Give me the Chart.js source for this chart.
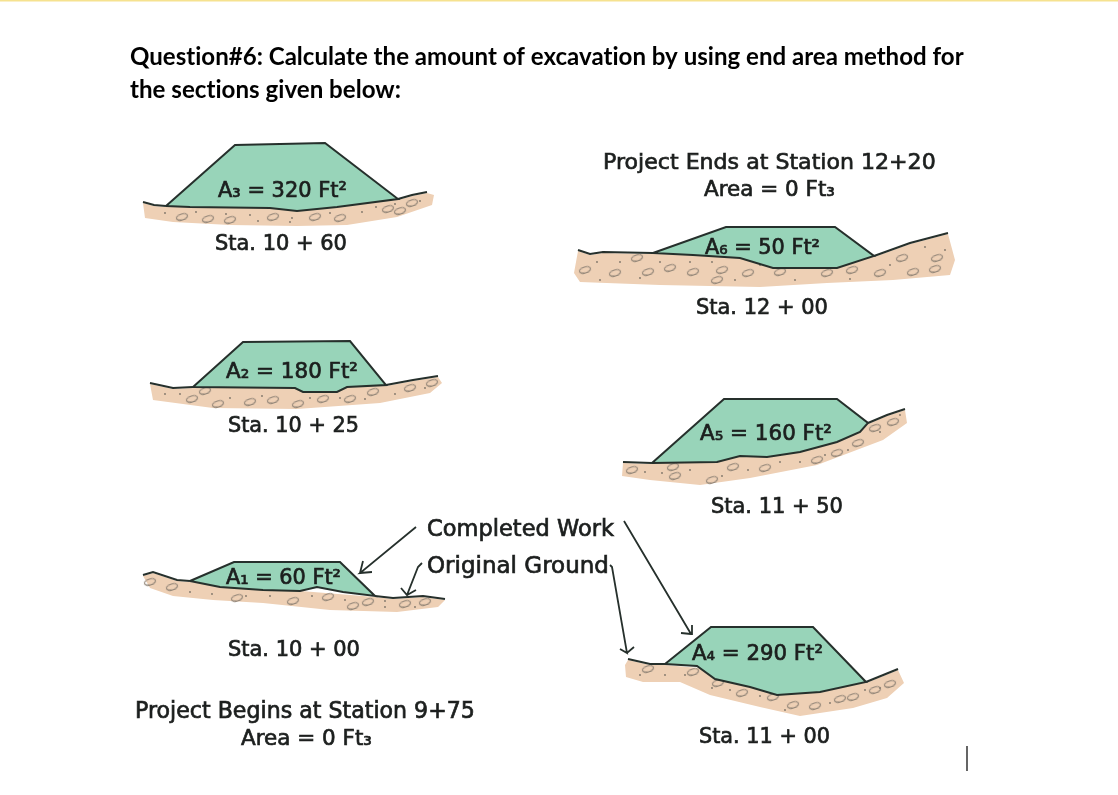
<!DOCTYPE html>
<html><head><meta charset="utf-8">
<script src="https://cdn.jsdelivr.net/npm/chart.js@4"></script>
<style>html,body{margin:0;padding:0;background:#fff;overflow:hidden}canvas{display:block;filter:blur(0.45px)}</style>
</head><body><canvas id="c" width="1118" height="795"></canvas>
<script>
// Cross-section outlines, in page units of the drawing's x/y scales
const groundA3=[[143,203],[154,206],[166,207],[398,200],[412,196],[427,193],[434,195],[432,205],[397,217],[347,225],[297,226],[230,225],[173,222],[145,218]];
const groundA6=[[578,251],[590,255],[603,253],[653,254],[874,257],[910,244],[948,234],[955,260],[950,275],[893,280],[827,283],[760,287],[660,285],[580,282],[574,273]];
const groundA2=[[150,384],[173,389],[193,388],[386,386],[413,381],[438,377],[442,383],[430,393],[380,403],[297,409],[213,408],[153,400]];
const groundA5=[[623,463],[652,464],[868,424],[887,416],[905,410],[907,423],[883,440],[817,465],[750,478],[700,485],[650,480],[622,476]];
const groundA1=[[143,576],[153,573],[177,581],[190,582],[375,597],[393,599],[423,597],[445,600],[438,607],[397,612],[330,610],[263,603],[213,600],[173,596],[150,588]];
const groundA4=[[628,660],[650,665],[665,665],[866,683],[898,670],[904,683],[887,698],[853,708],[800,716],[760,707],[710,695],[680,682],[643,682],[626,677],[625,665]];

const workA3=[[166,206],[235,145],[325,143],[398,199],[337,207],[297,211],[270,208],[190,207]];
const workA6=[[653,253],[726,227],[835,227],[874,256],[837,268],[773,268],[740,258],[693,255]];
const workA2=[[193,387],[243,342],[350,341],[386,385],[347,387],[337,392],[303,392],[295,388]];
const workA5=[[652,463],[724,399],[837,399],[868,423],[860,432],[837,442],[800,452],[767,457],[740,456],[717,462]];
const workA1=[[190,581],[234,562],[340,562],[375,596],[343,592],[317,587],[300,591],[263,590],[220,587]];
const workA4=[[665,664],[711,627],[813,627],[866,682],[820,692],[777,695],[750,687],[715,679],[697,666]];

const surfaceLeftA3=[[143,202],[154,205],[166,206]];
const surfaceRightA3=[[398,199],[412,195],[427,192]];
const surfaceLeftA6=[[578,250],[590,254],[603,252],[653,253]];
const surfaceRightA6=[[874,256],[910,243],[948,233]];
const surfaceLeftA2=[[150,383],[173,388],[193,387]];
const surfaceRightA2=[[386,385],[413,380],[438,376]];
const surfaceLeftA5=[[623,462],[652,463]];
const surfaceRightA5=[[868,423],[887,415],[905,409]];
const surfaceLeftA1=[[143,575],[153,572],[177,580],[190,581]];
const surfaceRightA1=[[375,596],[393,598],[423,596],[445,599]];
const surfaceLeftA4=[[628,659],[650,664],[665,664]];
const surfaceRightA4=[[866,682],[898,669]];

const arrowToWorkA1=[[416,527],[360,573],[372,572],[360,573],[363,561]];
const arrowToGroundA1=[[422,563],[418,567],[407,595],[401,588],[407,595],[416,590]];
const arrowToGroundA4=[[610,565],[612,567],[627,653],[620,649],[627,653],[634,647]];
const arrowToWorkA4=[[624,521],[691,634],[681,633],[691,634],[692,625]];
const cursorMark=[[967,746],[967,771]];
const topRule=[[0,0.5],[1118,0.5]];

const pebbles=[[182,217],[208,219],[273,217],[315,217],[340,218],[412,203],[400,211],[388,209],[230,220],
[585,270],[615,273],[648,272],[637,258],[670,268],[693,272],[722,270],[748,273],[780,272],[827,273],[852,270],[880,273],[902,258],[937,258],[913,272],[935,269],[717,280],
[150,582],[172,587],[237,598],[293,601],[328,597],[368,602],[405,604],[425,602],[353,606],
[648,669],[693,672],[742,693],[773,697],[793,705],[815,706],[840,699],[853,697],[875,690],[890,684],[718,683],
[632,470],[673,467],[675,476],[712,480],[733,467],[765,468],[837,453],[858,443],[893,422],[875,428],[817,460],
[205,391],[192,399],[218,404],[250,402],[273,400],[298,404],[323,399],[373,392],[410,388],[432,383],[350,399]];
const specks=[[165,213],[196,212],[226,214],[250,215],[292,218],[330,213],[362,212],[376,207],[420,201],[395,204],[258,221],[290,222],
[597,262],[620,262],[660,262],[690,262],[712,262],[760,265],[795,280],[850,279],[890,265],[925,247],[945,250],[600,280],[640,278],[735,280],
[190,592],[212,594],[246,596],[270,596],[312,596],[345,600],[385,601],[415,607],[385,607],
[640,675],[665,675],[685,675],[712,688],[730,690],[760,696],[785,710],[830,703],[865,690],[880,688],
[645,472],[662,473],[690,470],[722,476],[748,470],[780,462],[800,462],[825,455],[848,450],[880,432],[900,415],
[165,394],[180,394],[230,398],[262,396],[310,398],[340,398],[365,399],[395,394],[425,388]];

const textItems=[
 "Question#6: Calculate the amount of excavation by using end area method for",
 "the sections given below:",
 "A₃ = 320 Ft²","Sta. 10 + 60",
 "Project Ends at Station 12+20","Area = 0 Ft₃",
 "A₆ = 50 Ft²","Sta. 12 + 00",
 "A₂ = 180 Ft²","Sta. 10 + 25",
 "A₅ = 160 Ft²","Sta. 11 + 50",
 "Completed Work","Original Ground",
 "A₁ = 60 Ft²","Sta. 10 + 00",
 "Project Begins at Station 9+75","Area = 0 Ft₃",
 "A₄ = 290 Ft²","Sta. 11 + 00"];
const textLeft=[130,130,218,215,603,704,705,696,226,228,700,711,427,427,226,228,135,241,692,699];
const textBase=[65,98,197,250,169,196,254,314,378,432,440,513,536,573,584,656,718,745,660,743];
const textWide=[834,271,129,132,333,131,115,132,132,131,132,132,187,182,115,132,340,131,131,131];

const INK='#26302c',GREEN='#98d4b9',TAN='#eed0b5';
const pts=a=>a.map(p=>({x:p[0],y:p[1]}));
const shape=(a,color,order,border)=>({data:pts([...a,a[0]]),showLine:true,fill:'shape',backgroundColor:color,borderColor:border||color,borderWidth:border?2:0,pointRadius:0,tension:0,order});
const line=(a,color,w,order)=>({data:pts(a),showLine:true,fill:false,borderColor:color,borderWidth:w,pointRadius:0,tension:0,order});

const peb=document.createElement('canvas');peb.width=14;peb.height=9;
const pc=peb.getContext('2d');pc.strokeStyle='#8d8174';pc.lineWidth=1.2;pc.beginPath();pc.ellipse(7,4.5,5.6,3,0,0,Math.PI*2);pc.stroke();

const datasets=[];
[groundA3,groundA6,groundA2,groundA5,groundA1,groundA4].forEach(g=>datasets.push(shape(g,TAN,6)));
datasets.push({data:pts(pebbles),pointStyle:peb,pointRotation:-18,showLine:false,order:5});
datasets.push({data:pts(specks),pointStyle:'circle',pointRadius:0.9,pointBackgroundColor:'#7d7368',pointBorderWidth:0,showLine:false,order:5});
[workA3,workA6,workA2,workA5,workA1,workA4].forEach(g=>datasets.push(shape(g,GREEN,3,INK)));
[surfaceLeftA3,surfaceRightA3,surfaceLeftA6,surfaceRightA6,surfaceLeftA2,surfaceRightA2,surfaceLeftA5,surfaceRightA5,surfaceLeftA1,surfaceRightA1,surfaceLeftA4,surfaceRightA4].forEach(s=>datasets.push(line(s,INK,2,2)));
[arrowToWorkA1,arrowToGroundA1,arrowToGroundA4,arrowToWorkA4].forEach(s=>datasets.push(line(s,INK,1.8,1)));
datasets.push(line(cursorMark,'#000',1.2,1));
datasets.push(line(topRule,'#f6e28f',2,1));

const textPlugin={id:'sheetText',afterDatasetsDraw(ch){
  const c=ch.ctx,sx=ch.scales.x,sy=ch.scales.y;
  c.save();c.textAlign='left';c.textBaseline='alphabetic';c.letterSpacing='0.01px';
  textItems.forEach((t,i)=>{
    const head=i<2;
    const family=head?'Lato':'"DejaVu Sans"';
    const weight=head?'bold':'normal';
    c.font=weight+' 20px '+family;
    const m=c.measureText(t).width;
    const size=20*textWide[i]/m;
    c.font=weight+' '+size.toFixed(2)+'px '+family;
    c.fillStyle=head?'#000':'#1c1f1e';
    const x=sx.getPixelForValue(textLeft[i]),y=sy.getPixelForValue(textBase[i]);
    c.fillText(t,x,y);
    if(!head){c.strokeStyle='#1c1f1e';c.lineWidth=0.7;c.strokeText(t,x,y);}
  });
  c.restore();
}};

new Chart(document.getElementById('c'),{
  type:'scatter',
  data:{datasets},
  options:{responsive:false,animation:false,devicePixelRatio:1,
    layout:{padding:0,autoPadding:false},
    plugins:{legend:{display:false},title:{display:false},tooltip:{enabled:false}},
    scales:{x:{type:'linear',min:0,max:1118,display:false},
            y:{type:'linear',min:0,max:795,reverse:true,display:false}}},
  plugins:[textPlugin]
});
</script></body></html>
